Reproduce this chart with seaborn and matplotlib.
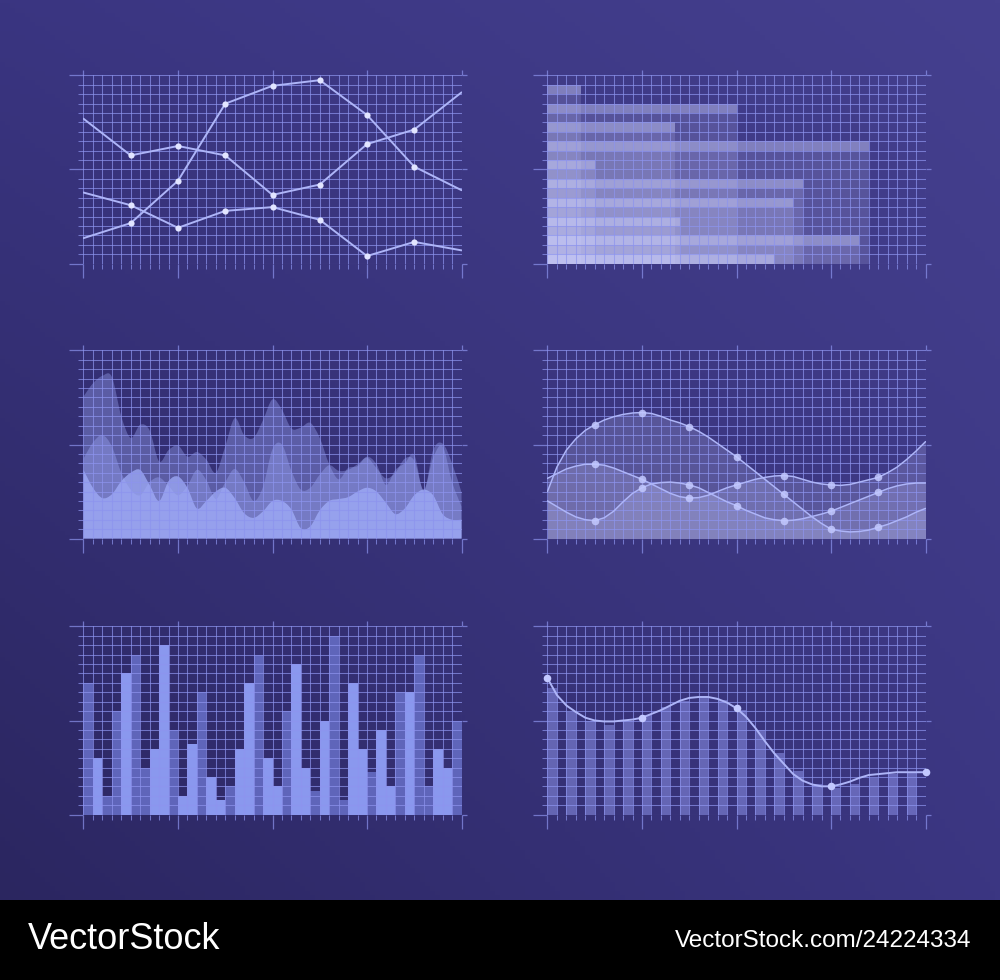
import numpy as np
import pandas as pd
import matplotlib
matplotlib.use("Agg")
import matplotlib.pyplot as plt
from matplotlib.colors import to_rgb, to_rgba
from matplotlib.path import Path
from matplotlib.patches import PathPatch
import seaborn as sns

# values are read in grid cells: every panel is 40 cells wide, 20 high
steps = [0, 5, 10, 15, 20, 25, 30, 35, 40]
line_a = [15.4, 11.5, 12.5, 11.5, 7.3, 8.4, 12.7, 14.25, 18.2]
line_b = [2.7, 4.3, 8.8, 17.0, 18.9, 19.5, 15.8, 10.3, 7.8]
line_c = [7.55, 6.2, 3.8, 5.6, 6.0, 4.65, 0.8, 2.3, 1.4]

# horizontal bars, top row first
hbar_widths = [3.5, 20.0, 13.5, 34.0, 5.0, 27.0, 26.0, 14.0, 33.0, 24.0]

# overlapping waves, one value per cell
wave_back = [15.1, 16.5, 17.3, 17.2, 13.0, 10.7, 12.1, 11.5, 8.2, 9.4,
             9.9, 8.7, 9.2, 8.4, 7.0, 9.8, 12.8, 11.0, 10.7, 12.6,
             14.8, 13.7, 11.7, 11.8, 12.3, 10.7, 7.9, 6.3, 7.5, 7.7,
             8.7, 7.9, 5.7, 7.3, 8.0, 8.9, 5.0, 9.4, 10.1, 8.0, 4.9]
wave_mid = [8.5, 10.2, 11.0, 9.8, 7.0, 5.2, 4.6, 6.0, 6.5, 5.6,
            4.6, 5.6, 7.3, 6.2, 4.2, 6.0, 7.4, 6.0, 4.0, 5.5,
            9.5, 10.0, 7.2, 5.2, 5.4, 6.8, 7.8, 7.2, 7.3, 7.9,
            8.6, 7.5, 6.4, 7.0, 8.5, 8.3, 5.2, 8.6, 9.8, 6.0, 3.4]
wave_front = [7.3, 5.4, 4.3, 4.7, 6.1, 7.0, 7.3, 5.7, 4.0, 6.1,
              6.6, 5.4, 3.2, 4.0, 5.0, 5.4, 4.3, 2.7, 2.2, 2.9,
              4.0, 4.0, 3.1, 1.1, 1.3, 3.0, 4.0, 4.2, 4.4, 5.0,
              5.4, 5.0, 3.8, 2.6, 3.2, 4.6, 5.2, 4.6, 2.6, 2.0, 2.0]

# three smooth curves
curve_a = [5.0, 7.6, 9.4, 10.6, 11.5, 12.1, 12.6, 12.95, 13.2, 13.35,
           13.4, 13.3, 13.0, 12.6, 12.3, 11.9, 11.4, 10.8, 10.1, 9.4,
           8.7, 7.9, 7.1, 6.3, 5.5, 4.7, 3.9, 3.1, 2.3, 1.6,
           1.0, 0.8, 0.7, 0.75, 0.9, 1.2, 1.5, 1.9, 2.3, 2.8, 3.2]
curve_b = [6.4, 6.9, 7.4, 7.7, 7.9, 7.9, 7.8, 7.5, 7.1, 6.7,
           6.3, 5.8, 5.3, 4.8, 4.45, 4.3, 4.35, 4.6, 5.0, 5.4,
           5.7, 6.0, 6.3, 6.5, 6.65, 6.7, 6.6, 6.3, 6.0, 5.8,
           5.7, 5.65, 5.75, 6.0, 6.25, 6.5, 7.0, 7.6, 8.4, 9.3, 10.3]
curve_c = [4.0, 3.4, 2.8, 2.3, 2.0, 1.9, 2.2, 2.9, 3.9, 4.8,
           5.4, 5.8, 5.95, 6.0, 5.9, 5.7, 5.4, 4.9, 4.4, 3.9,
           3.5, 3.0, 2.6, 2.2, 2.0, 1.9, 1.95, 2.1, 2.35, 2.6,
           2.9, 3.3, 3.7, 4.1, 4.5, 4.9, 5.3, 5.6, 5.8, 5.9, 5.9]

# column chart, one bar per cell
col_heights = [14, 6, 2, 11, 15, 17, 5, 7, 18, 9,
               2, 7.5, 13, 4, 1.5, 3, 7, 14, 17, 6,
               3, 11, 16, 5, 2.5, 10, 19, 1.5, 14, 7,
               4.5, 9, 3, 13, 13, 17, 3, 7, 5, 10]
col_shade = ["lo", "hi", "lo", "lo", "hi", "lo", "lo", "hi", "hi", "lo",
             "hi", "hi", "lo", "hi", "hi", "lo", "hi", "hi", "lo", "hi",
             "hi", "lo", "hi", "hi", "lo", "hi", "lo", "lo", "hi", "hi",
             "lo", "hi", "hi", "lo", "hi", "lo", "lo", "hi", "hi", "lo"]

# trend curve with bars on every second cell
trend_curve = [14.5, 12.7, 11.6, 10.9, 10.3, 10.0, 9.9, 9.9, 10.0, 10.1,
               10.3, 10.7, 11.1, 11.6, 12.1, 12.4, 12.5, 12.5, 12.3, 11.9,
               11.3, 10.4, 9.2, 7.8, 6.5, 5.4, 4.3, 3.6, 3.2, 3.0,
               3.0, 3.2, 3.5, 3.9, 4.2, 4.3, 4.4, 4.5, 4.5, 4.5, 4.5]
trend_bars = [13.5, 10.9, 9.9, 9.5, 9.9, 10.6, 11.4, 12.1, 12.4, 12.2,
              11.1, 9.0, 6.5, 4.6, 3.2, 2.8, 3.3, 3.9, 4.3, 4.5]

sns.set_theme(style="dark")
plt.rcParams["font.family"] = ["Liberation Sans Narrow", "Liberation Sans", "DejaVu Sans"]

GRID = "#8d94ee"
LINE = "#aeb5f8"
DOT = "#e2e5ff"
PALE = "#d0d4ff"
WAVE = "#a5b2ff"
HI = "#8a98ee"
LO = "#5f65ba"

xs = list(range(41))

fig = plt.figure(figsize=(10, 9.8), dpi=100)
fig.patch.set_facecolor("black")

# purple backdrop, lighter towards the top right
bg = fig.add_axes([0, 80 / 980, 1, 900 / 980])
tl, tr, bl, br = [np.array(to_rgb(c)) for c in ("#3a3581", "#45408f", "#2b2660", "#3b3682")]
u = np.linspace(0, 1, 200)[None, :, None]
v = np.linspace(0, 1, 200)[:, None, None]
img = (1 - v) * ((1 - u) * tl + u * tr) + v * ((1 - u) * bl + u * br)
bg.imshow(img, aspect="auto", extent=(0, 1, 0, 1), origin="upper")
bg.axis("off")


def panel(col, row):
    left = [83, 547][col] / 1000
    top = [75, 350, 626][row]
    return fig.add_axes([left, 1 - (top + 189) / 980, 379 / 1000, 189 / 980])


def blueprint(ax):
    ax.set_facecolor("none")
    ax.set_xlim(-0.05, 40.05)
    ax.set_ylim(-0.05, 20.05)
    ax.set_xticks(range(0, 41, 10))
    ax.set_yticks(range(0, 21, 10))
    ax.set_xticks(range(41), minor=True)
    ax.set_yticks(range(21), minor=True)
    ax.grid(which="both", color=GRID, lw=0.75, alpha=0.7)
    ax.set_axisbelow("line")
    for s in ax.spines.values():
        s.set_visible(False)
    ax.tick_params(which="both", direction="out", left=True, bottom=True,
                   top=False, right=False, labelleft=False, labelbottom=False,
                   color=to_rgba(GRID, 0.7))
    ax.tick_params(which="major", length=10, width=0.9)
    ax.tick_params(which="minor", length=3.6, width=0.75)
    # short stubs past the top and right edge
    ax.vlines(range(0, 41, 10), 20, 20.55, color=GRID, lw=0.9, alpha=0.7, clip_on=False)
    ax.hlines(range(0, 21, 10), 40, 40.55, color=GRID, lw=0.9, alpha=0.7, clip_on=False)
    ax.set_xlabel("")
    ax.set_ylabel("")


def smooth_area(ax, vals, **kw):
    # closed area whose top edge is drawn as bezier segments through the values
    p = np.column_stack([xs, vals]).astype(float)
    ext = np.vstack([p[0], p, p[-1]])
    verts = [(p[0, 0], 0.0), tuple(p[0])]
    codes = [Path.MOVETO, Path.LINETO]
    for i in range(len(p) - 1):
        a, b, c, d = ext[i], ext[i + 1], ext[i + 2], ext[i + 3]
        verts += [tuple(b + (c - a) / 6), tuple(c - (d - b) / 6), tuple(c)]
        codes += [Path.CURVE4] * 3
    verts += [(p[-1, 0], 0.0), (p[0, 0], 0.0)]
    codes += [Path.LINETO, Path.CLOSEPOLY]
    ax.add_patch(PathPatch(Path(verts, codes), lw=0, **kw))


# 1: line chart
ax = panel(0, 0)
df1 = pd.DataFrame({"x": steps * 3,
                    "y": line_a + line_b + line_c,
                    "s": ["a"] * 9 + ["b"] * 9 + ["c"] * 9})
sns.lineplot(data=df1, x="x", y="y", hue="s", palette=[LINE] * 3, lw=1.4,
             errorbar=None, legend=False, ax=ax)
dots = df1[(df1.x > 0) & (df1.x < 40)]
sns.scatterplot(data=dots, x="x", y="y", color=DOT, s=20, linewidth=0, ax=ax, zorder=3)
blueprint(ax)

# 2: horizontal bars with a translucent drop to the baseline
ax = panel(1, 0)
n = len(hbar_widths)
for i, w in enumerate(hbar_widths):
    base = 2 * (n - 1 - i)
    if base:
        ax.barh(0, w, height=base, align="edge", color=PALE, alpha=0.16, lw=0)
    ax.barh(base, w, height=1, align="edge", color=PALE, alpha=0.45, lw=0)
blueprint(ax)

# 3: overlapping waves
ax = panel(0, 1)
for vals, a in ((wave_back, 0.35), (wave_mid, 0.35), (wave_front, 0.7)):
    smooth_area(ax, vals, color=WAVE, alpha=a)
blueprint(ax)

# 4: smooth curves with fills
ax = panel(1, 1)
for vals in (curve_a, curve_b, curve_c):
    ax.fill_between(xs, vals, color=PALE, alpha=0.2, lw=0)
df4 = pd.DataFrame({"x": xs * 3,
                    "y": curve_a + curve_b + curve_c,
                    "s": ["a"] * 41 + ["b"] * 41 + ["c"] * 41})
sns.lineplot(data=df4, x="x", y="y", hue="s", palette=[LINE] * 3, lw=1.1,
             errorbar=None, legend=False, ax=ax)
marks = df4[(df4.x % 5 == 0) & (df4.x > 0) & (df4.x < 40)]
sns.scatterplot(data=marks, x="x", y="y", color="#c3c9ff", s=30, alpha=0.85,
                linewidth=0, ax=ax, zorder=3)
blueprint(ax)

# 5: columns
ax = panel(0, 2)
ax.bar(range(40), col_heights, width=1, align="edge",
       color=[HI if s == "hi" else LO for s in col_shade], lw=0)
blueprint(ax)

# 6: bars under a trend curve
ax = panel(1, 2)
ax.bar(range(0, 40, 2), trend_bars, width=1, align="edge", color="#9ea6ff", alpha=0.45, lw=0)
sns.lineplot(x=xs, y=trend_curve, color=LINE, lw=1.4, ax=ax)
sns.scatterplot(x=xs[::10], y=trend_curve[::10], color="#c3c9ff", s=30, linewidth=0,
                ax=ax, zorder=3, clip_on=False)
blueprint(ax)

fig.text(0.028, 0.041, "VectorStock", color="white", fontsize=26, va="center")
fig.text(0.971, 0.040, "VectorStock.com/24224334", color="white", fontsize=17.5,
         va="center", ha="right")

fig.savefig("out.png", dpi=100, facecolor="black")
